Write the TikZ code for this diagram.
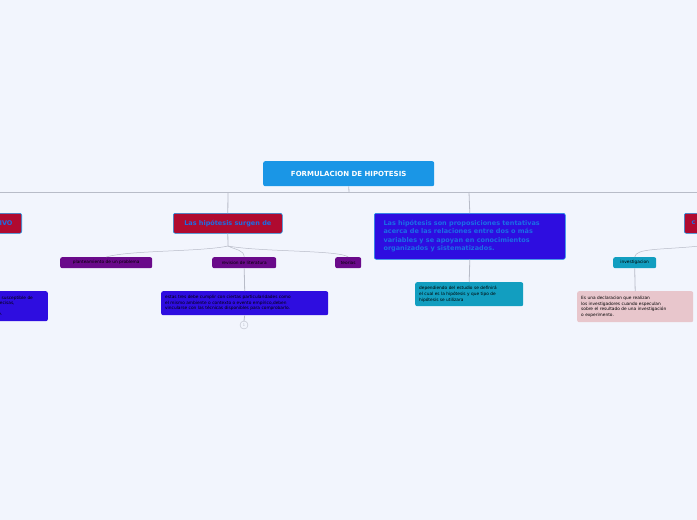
\documentclass[tikz,border=0pt]{standalone}
\usepackage{fontspec}
\setmainfont{DejaVu Sans}
\usetikzlibrary{positioning}
\definecolor{bg}{HTML}{F2F5FD}
\definecolor{rootblue}{HTML}{1A96E6}
\definecolor{crimson}{HTML}{B00A30}
\definecolor{violet}{HTML}{2E0DE0}
\definecolor{txtblue}{HTML}{1A6EE6}
\definecolor{purp}{HTML}{6A0A8A}
\definecolor{teal}{HTML}{129EC0}
\definecolor{pink}{HTML}{E8C6CC}
\definecolor{wire}{HTML}{B8BCC8}
\tikzset{
  box/.style={rounded corners=2pt, inner sep=0pt, anchor=north west},
  mainbox/.style={box, fill=crimson, draw=rootblue, line width=0.6pt,
    text=txtblue, font=\bfseries\fontsize{6.5}{7}\selectfont},
  leaf/.style={box, fill=purp, font=\fontsize{4.3}{5}\selectfont},
  note/.style={box, align=left, inner xsep=4pt, inner ysep=4pt, font=\fontsize{4.3}{5.6}\selectfont},
  wire/.style={draw=wire, line width=0.8pt}
}
\begin{document}
\begin{tikzpicture}[x=1pt,y=-1pt]
\useasboundingbox (0,0) rectangle (697,520);
\fill[bg] (0,0) rectangle (697,520);
\clip (0,0) rectangle (697,520);

% root
\node[box, fill=rootblue, text=white, minimum width=171pt, minimum height=25pt,
  font=\bfseries\fontsize{7}{8}\selectfont] (root) at (263,161) {FORMULACION DE HIPOTESIS};
\coordinate (bus) at (349,192);
\draw[wire] (root.south) -- (bus);
\draw[wire] (0,192) -- (697,192);

% first level
\node[mainbox, minimum width=82pt, minimum height=20pt, anchor=north east] (left) at (22,213) {};
\node[anchor=east, text=txtblue, font=\bfseries\fontsize{6.5}{7}\selectfont] at (16,223) {IVO};
\node[mainbox, minimum width=109pt, minimum height=20pt] (surgen) at (173,213) {Las hipótesis surgen de};
\node[box, fill=violet, draw=rootblue, line width=0.6pt, minimum width=191pt, minimum height=46pt] (son) at (374,213) {};
\node[anchor=north west, align=left, text=txtblue, font=\bfseries\fontsize{6.5}{8.2}\selectfont] at (380,217)
  {Las hipótesis son proposiciones tentativas\\acerca de las relaciones entre dos o más\\variables y se apoyan en conocimientos\\organizados y sistematizados.};
\node[mainbox, minimum width=80pt, minimum height=20pt] (right) at (684,213) {};
\node[anchor=west, text=txtblue, font=\bfseries\fontsize{6.5}{7}\selectfont] at (688,223) {c};

\draw[wire] (228,192) -- (surgen.north);
\draw[wire] (469,192) -- (son.north);
\draw[wire] (698,192) -- (698,213);

% leaves under surgen
\node[leaf, minimum width=92pt, minimum height=11pt] (plan) at (60,257) {planteamiento de un problema};
\node[leaf, minimum width=64pt, minimum height=11pt] (rev) at (212,257) {revision de literatura};
\node[leaf, minimum width=26pt, minimum height=11pt] (teo) at (335,257) {teorias};
\coordinate (fork) at (228,246);
\draw[wire] (surgen.south) -- (fork);
\draw[wire, line width=0.5pt] (fork) .. controls (200,252) and (130,250) .. (plan.north);
\draw[wire, line width=0.5pt] (fork) .. controls (236,250) and (244,250) .. (rev.north);
\draw[wire, line width=0.5pt] (fork) .. controls (260,252) and (340,250) .. (teo.north);

\node[note, fill=violet, text width=159pt, minimum height=24pt] (estas) at (161,291)
  {estas tres debe cumplir con ciertas particularidades como\\el mismo ambiente o contexto o evento empírico,deben\\vincularse con las técnicas disponibles para comprobarlo.};
\draw[wire] (rev.south) -- (estas.north);
\node[circle, draw=wire, fill=bg, minimum size=8pt, inner sep=0pt, font=\fontsize{3.5}{4}\selectfont, text=wire] (more) at (244,325) {1};
\draw[wire] (estas.south) -- (more.north);

\node[note, fill=violet, text width=100pt, minimum height=30pt, anchor=north east] (leftnote) at (48,291)
  {es una proposición que es susceptible de\\ resolverse con pruebas precisas,\\ nos dice la relación que\\ es comprobable y medible.};

% under son
\node[note, fill=teal, text width=100pt, minimum height=24pt] (dep) at (415,282)
  {dependiendo del estudio se definirá\\el cual es la hipótesis  y que tipo de\\hipótesis se utilizara};
\draw[wire] (son.south) -- (dep.north);

% right side
\node[leaf, fill=teal, minimum width=43pt, minimum height=11pt] (inv) at (613,257) {investigacion};
\draw[wire, line width=0.5pt] (700,246) .. controls (660,250) and (636,248) .. (inv.north);
\node[note, fill=pink, text width=108pt, minimum height=31pt] (decl) at (577,291)
  {Es una declaracion que realizan\\los investigadores cuando especulan\\sobre el resultado de una investigación\\o experimento.};
\draw[wire] (inv.south) -- (decl.north);
\end{tikzpicture}
\end{document}
